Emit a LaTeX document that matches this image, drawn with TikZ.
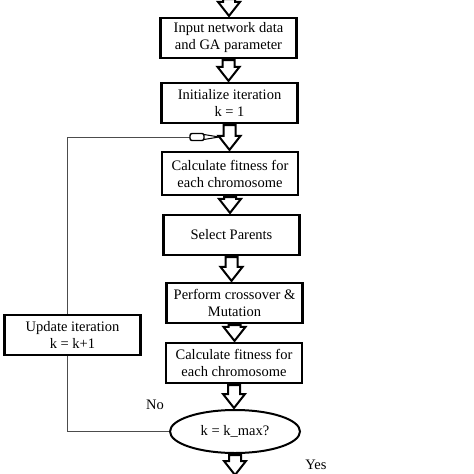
\documentclass[tikz,border=0pt]{standalone}
\usepackage{fontspec}
\setmainfont{Liberation Serif}
\usetikzlibrary{shapes.geometric,calc}
\begin{document}
\begin{tikzpicture}[x=1pt,y=-1pt,line join=miter,
  font=\fontsize{14.5}{17}\selectfont,
  stepbox/.style={draw,line width=2.2pt,minimum width=136pt,minimum height=40pt,align=center,inner sep=0pt},
  testbox/.style={draw,ellipse,line width=2pt,minimum width=130pt,minimum height=43pt,inner sep=0pt},
  blockarrow/.style={draw,line width=2pt,fill=white},
  thinline/.style={draw,line width=0.5pt,black!70}]
\useasboundingbox (0,0) rectangle (474,474);
% steps
\node[stepbox] (inp) at (228.5,38) {Input network data\\ and GA parameter};
\node[stepbox] (init) at (229.5,103) {Initialize iteration\\ k = 1};
\node[stepbox,minimum height=43pt] (fit1) at (230,173.5) {Calculate fitness for\\ each chromosome};
\node[stepbox] (sel) at (231.5,235) {Select Parents};
\node[stepbox] (cross) at (234.5,303) {Perform crossover \&\\ Mutation};
\node[stepbox] (fit2) at (234,363) {Calculate fitness for\\ each chromosome};
\node[testbox] (dec) at (235,431.5) {k = k\_max?};
\node[stepbox] (upd) at (72.5,335) {Update iteration\\ k = k+1};
\coordinate (start) at (229,-2);
\coordinate (stop) at (232,476);
% block arrows
\foreach \a/\b in {start/inp,inp/init,init/fit1,fit1/sel,sel/cross,cross/fit2,fit2/dec,dec/stop}{
\path[blockarrow] let \p1=($(\a.south)+(0,1)$), \p2=($(\b.north)+(0,-1)$) in
  (\x1-6pt,\y1) -- (\x1-6pt,\y2+14pt) -- (\x1-11pt,\y2+14pt) -- (\x1,\y2)
  -- (\x1+11pt,\y2+14pt) -- (\x1+6pt,\y2+14pt) -- (\x1+6pt,\y1) -- cycle;
}
% loop back
\coordinate (fbdown) at (67,431.5);
\coordinate (fbup) at (67,137);
\coordinate (fbtip) at (219,137);
\draw[thinline] (dec.west) -- (fbdown) -- (fbdown |- upd.south);
\draw[thinline] (fbup |- upd.north) -- (fbup) -- (190,137);
\draw[line width=1.4pt,rounded corners=2pt] (190,133.5) rectangle (204,140.5);
\draw[line width=1pt] (204,134.5) -- (fbtip) -- (204,139.5);
% labels
\node (no) at (155,405) {No};
\node (yes) at (316,465) {Yes};
\end{tikzpicture}
\end{document}
